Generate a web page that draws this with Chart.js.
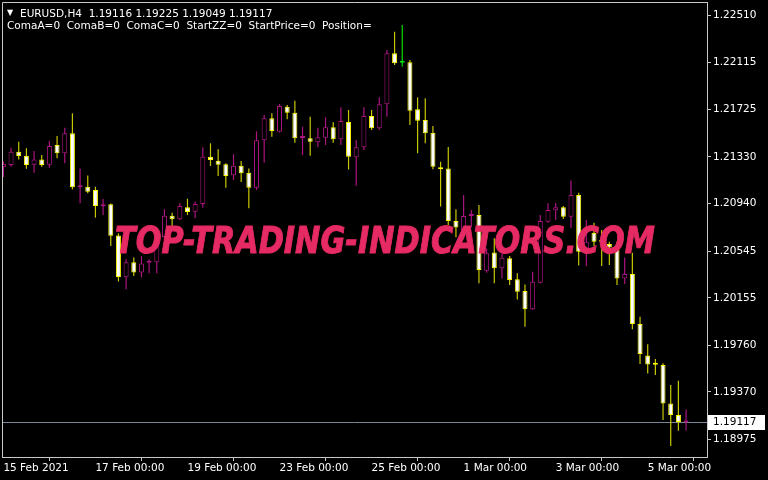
<!DOCTYPE html>
<html>
<head>
<meta charset="utf-8">
<script src="https://cdn.jsdelivr.net/npm/chart.js@4"></script>
<style>
html,body{margin:0;padding:0;background:#000;}
#wrap{position:relative;width:768px;height:480px;overflow:hidden;background:#000;}
#c{display:block;position:absolute;left:0;top:0;}
.hdr{position:absolute;color:#fff;font-family:"DejaVu Sans";font-size:10.5px;line-height:12px;white-space:pre;}
#wm{position:absolute;left:115px;top:222px;color:#E52A64;-webkit-text-stroke:1px #E52A64;font-family:"DejaVu Sans";font-weight:bold;font-style:italic;font-size:37px;line-height:37px;white-space:pre;transform-origin:left center;}
</style>
</head>
<body>
<div id="wrap">
  <canvas id="c" width="768" height="480"></canvas>
  <div class="hdr" style="left:7px;top:7px;font-size:8px;">▼</div>
  <div class="hdr" id="h1" style="left:20px;top:7px;">EURUSD,H4  1.19116 1.19225 1.19049 1.19117</div>
  <div class="hdr" id="h2" style="left:7px;top:19px;">ComaA=0  ComaB=0  ComaC=0  StartZZ=0  StartPrice=0  Position=</div>
  <div id="wm">TOP-TRADING-INDICATORS.COM</div>
</div>
<script>
// ---- data (EURUSD H4, 15 Feb 2021 00:00 .. 5 Mar 2021 20:00) ----
const opens = [1.21245,1.21262,1.21373,1.21340,1.21264,1.21309,1.21264,1.21429,1.21360,1.21526,
1.21076,1.21081,1.21054,1.20918,1.20934,1.20674,1.20326,1.20451,1.20367,1.20447,
1.20451,1.20662,1.20839,1.20809,1.20909,1.20873,1.20937,1.21331,1.21298,1.21268,
1.21176,1.21256,1.21198,1.21073,1.21468,1.21651,1.21540,1.21748,1.21698,1.21487,
1.21485,1.21451,1.21490,1.21576,1.21476,1.21620,1.21326,1.21410,1.21670,1.21568,
1.21768,1.22193,1.22115,1.22118,1.21726,1.21637,1.21531,1.21243,1.21234,1.20795,
1.20693,1.20837,1.20845,1.20381,1.20532,1.20401,1.20484,1.20309,1.20212,1.20059,
1.20281,1.20789,1.20884,1.20909,1.20831,1.21012,1.20539,1.20698,1.20628,1.20603,
1.20553,1.20317,1.20353,1.19936,1.19675,1.19600,1.19595,1.19275,1.19178,1.19116];
const highs = [1.21291,1.21406,1.21456,1.21401,1.21379,1.21345,1.21462,1.21504,1.21573,1.21693,
1.21234,1.21174,1.21081,1.20979,1.20941,1.20693,1.20476,1.20492,1.20503,1.20476,
1.20678,1.20893,1.20864,1.20943,1.20981,1.20956,1.21410,1.21443,1.21393,1.21276,
1.21351,1.21295,1.21234,1.21543,1.21679,1.21693,1.21771,1.21762,1.21798,1.21581,
1.21665,1.21573,1.21660,1.21618,1.21743,1.21721,1.21470,1.21743,1.21721,1.21826,
1.22221,1.22373,1.22429,1.22137,1.21826,1.21818,1.21587,1.21289,1.21412,1.20893,
1.21012,1.20887,1.20928,1.20567,1.20651,1.20520,1.20503,1.20359,1.20267,1.20372,
1.20845,1.20943,1.20945,1.20920,1.21134,1.21031,1.20803,1.20781,1.20720,1.20623,
1.20623,1.20492,1.20531,1.19997,1.19767,1.19645,1.19609,1.19428,1.19464,1.19225];
const lows = [1.21162,1.21248,1.21309,1.21231,1.21198,1.21248,1.21239,1.21318,1.21276,1.21059,
1.20943,1.21026,1.20823,1.20845,1.20587,1.20291,1.20226,1.20337,1.20326,1.20359,
1.20359,1.20637,1.20753,1.20803,1.20845,1.20818,1.20906,1.21254,1.21170,1.21073,
1.21137,1.21120,1.20901,1.21054,1.21281,1.21498,1.21535,1.21643,1.21448,1.21345,
1.21340,1.21410,1.21429,1.21448,1.21429,1.21224,1.21089,1.21387,1.21554,1.21554,
1.21665,1.22096,1.22082,1.21595,1.21360,1.21443,1.21226,1.20916,1.20762,1.20660,
1.20670,1.20741,1.20276,1.20364,1.20276,1.20317,1.20262,1.20142,1.19914,1.20053,
1.20276,1.20781,1.20803,1.20812,1.20737,1.20424,1.20420,1.20587,1.20420,1.20428,
1.20262,1.20270,1.19892,1.19603,1.19525,1.19511,1.19136,1.18919,1.19046,1.19049];
const closes = [1.21270,1.21373,1.21337,1.21262,1.21309,1.21262,1.21420,1.21360,1.21526,1.21076,
1.21084,1.21039,1.20920,1.20926,1.20673,1.20328,1.20451,1.20367,1.20442,1.20453,
1.20662,1.20839,1.20809,1.20920,1.20870,1.20937,1.21331,1.21304,1.21264,1.21170,
1.21256,1.21193,1.21073,1.21468,1.21651,1.21545,1.21754,1.21698,1.21485,1.21491,
1.21456,1.21493,1.21576,1.21476,1.21629,1.21331,1.21410,1.21670,1.21568,1.21768,
1.22193,1.22110,1.22115,1.21715,1.21631,1.21526,1.21248,1.21226,1.20795,1.20741,
1.20837,1.20843,1.20387,1.20526,1.20401,1.20489,1.20303,1.20206,1.20059,1.20289,
1.20795,1.20887,1.20909,1.20831,1.21012,1.20539,1.20623,1.20623,1.20623,1.20574,
1.20317,1.20353,1.19936,1.19686,1.19600,1.19596,1.19275,1.19178,1.19120,1.19117];
const xTickIndex = [0,12,24,36,48,60,72,84];
const xTickLabels = ["15 Feb 2021","17 Feb 00:00","19 Feb 00:00","23 Feb 00:00","25 Feb 00:00","1 Mar 00:00","3 Mar 00:00","5 Mar 00:00"];
const yTickValues = [1.22510,1.22115,1.21725,1.21330,1.20940,1.20545,1.20155,1.19760,1.19370,1.18975];

// ---- styling ----
const BULL = '#AC1480', BEAR = '#FFFF00', BEAR_FILL = '#FFFFFF', BEAR_WICK = '#C8C800', DOJI = '#00E000';
const AXIS = '#C8C8C8', FONT = {family:'DejaVu Sans', size:10.5};

const idx = opens.map((_, i) => i);
const kind = i => closes[i] > opens[i] ? 'bull' : (closes[i] < opens[i] ? 'bear' : 'doji');
const edgeColor = i => ({bull:BULL, bear:BEAR, doji:DOJI})[kind(i)];
const wickColor = i => ({bull:BULL, bear:BEAR_WICK, doji:DOJI})[kind(i)];
const fillColor = i => ({bull:'#000000', bear:BEAR_FILL, doji:DOJI})[kind(i)];

const framePlugin = {
  id: 'frame',
  beforeDatasetsDraw(chart) {
    const {ctx, chartArea: a, scales: {y}} = chart;
    const py = Math.round(y.getPixelForValue(closes[closes.length - 1])) + 0.5;
    ctx.save();
    ctx.strokeStyle = '#778899';
    ctx.lineWidth = 1;
    ctx.beginPath(); ctx.moveTo(a.left, py); ctx.lineTo(a.right, py); ctx.stroke();
    ctx.restore();
  },
  afterDraw(chart) {
    const {ctx, chartArea: a, scales: {y}} = chart;
    ctx.save();
    ctx.strokeStyle = AXIS; ctx.lineWidth = 1;
    ctx.beginPath();
    ctx.moveTo(a.left + 0.5, a.bottom); ctx.lineTo(a.left + 0.5, a.top + 0.5); ctx.lineTo(a.right, a.top + 0.5);
    ctx.stroke();
    const last = closes[closes.length - 1];
    const py = Math.round(y.getPixelForValue(last));
    ctx.fillStyle = '#FFFFFF';
    ctx.fillRect(a.right + 1, py - 7, 57, 15);
    ctx.fillStyle = '#000000';
    ctx.font = '10.5px "DejaVu Sans"';
    ctx.textBaseline = 'middle';
    ctx.textAlign = 'left';
    ctx.fillText(last.toFixed(5), a.right + 6, py + 0.5);
    ctx.restore();
  }
};

new Chart(document.getElementById('c'), {
  type: 'bar',
  data: {
    datasets: [
      {
        label: 'body', order: 0, grouped: false,
        data: idx.map(i => ({x: i, y: [opens[i], closes[i]]})),
        barThickness: 5, minBarLength: 2, borderWidth: 1, borderSkipped: false, inflateAmount: 0,
        backgroundColor: c => fillColor(c.dataIndex),
        borderColor: c => edgeColor(c.dataIndex)
      },
      {
        label: 'wick', order: 1, grouped: false,
        data: idx.map(i => ({x: i, y: [lows[i], highs[i]]})),
        barThickness: 1.2, borderWidth: 0, inflateAmount: 0,
        backgroundColor: c => wickColor(c.dataIndex)
      }
    ]
  },
  options: {
    responsive: false,
    devicePixelRatio: 1,
    animation: false,
    events: [],
    layout: {padding: {left: 2, top: 2, right: 0, bottom: 0}},
    plugins: {legend: {display: false}, tooltip: {enabled: false}},
    scales: {
      x: {
        type: 'linear', min: -0.18, max: 91.73, offset: false,
        afterBuildTicks: s => { s.ticks = xTickIndex.map(v => ({value: v})); },
        afterFit: s => { s.height = 23; s.paddingLeft = 0; s.paddingRight = 0; },
        ticks: {
          autoSkip: false, maxRotation: 0, minRotation: 0, align: 'start', padding: 1,
          color: '#FFFFFF', font: FONT,
          callback: v => xTickLabels[xTickIndex.indexOf(v)]
        },
        grid: {display: true, drawOnChartArea: false, drawTicks: true, tickLength: 4, color: AXIS},
        border: {display: true, color: AXIS}
      },
      y: {
        type: 'linear', position: 'right', min: 1.18828, max: 1.22621,
        afterBuildTicks: s => { s.ticks = yTickValues.map(v => ({value: v})); },
        afterFit: s => { s.width = 61; s.paddingTop = 0; s.paddingBottom = 0; },
        ticks: {
          autoSkip: false, padding: 2, color: '#FFFFFF', font: FONT,
          callback: v => Number(v).toFixed(5)
        },
        grid: {display: true, drawOnChartArea: false, drawTicks: true, tickLength: 4, color: AXIS},
        border: {display: true, color: AXIS}
      }
    }
  },
  plugins: [framePlugin]
});

// fit watermark to its width in the reference
const wm = document.getElementById('wm');
const w = wm.getBoundingClientRect().width;
wm.style.transform = 'scaleX(' + (540 / w) + ')';
</script>
</body>
</html>
